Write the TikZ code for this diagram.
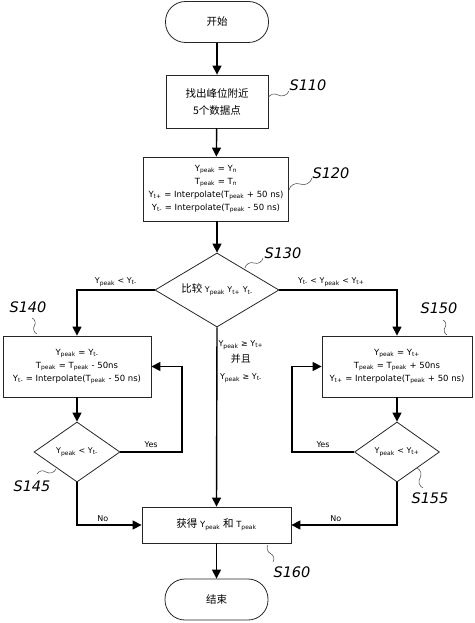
\documentclass[tikz,border=0pt]{standalone}
\usepackage{fontspec}
\setmainfont{DejaVu Sans}
\newfontfamily\cjk{Noto Sans CJK SC}
\usetikzlibrary{shapes.geometric,arrows.meta,calc}
\newcommand\sbs[1]{\textsubscript{#1}}
\tikzset{
  box/.style={draw=black!85, line width=0.8pt, align=center, inner sep=0pt,
    font=\fontsize{8.5}{13}\selectfont},
  term/.style={draw=black!85, line width=0.8pt, rounded corners=20pt, inner sep=0pt,
    minimum width=103pt, minimum height=41pt, font=\cjk\fontsize{10.5}{12}\selectfont},
  dec/.style={diamond, draw=black!85, line width=0.8pt, inner sep=0pt, align=center,
    font=\fontsize{8}{9}\selectfont},
  flow/.style={line width=1.4pt, -{Triangle[length=9pt,width=9pt]}},
  lbl/.style={font=\fontsize{14.5}{14}\selectfont\itshape},
  cond/.style={font=\fontsize{8}{9}\selectfont, inner sep=1pt},
  sq/.style={line width=0.5pt, black!75}
}
\begin{document}
\begin{tikzpicture}[x=1pt,y=-1pt]
\useasboundingbox (0,0) rectangle (474,623);
% nodes
\node[term] (start) at (217,22) {开始};
\node[box, minimum width=102pt, minimum height=53pt, font=\cjk\fontsize{10.5}{17}\selectfont] (s110) at (217,101.5) {找出峰位附近\\5个数据点};
\node[box, minimum width=145pt, minimum height=64pt] (s120) at (216,189) {Y\sbs{peak} = Y\sbs{n}\\T\sbs{peak} = T\sbs{n}\\Y\sbs{t+} = Interpolate(T\sbs{peak} + 50 ns)\\Y\sbs{t-} = Interpolate(T\sbs{peak} - 50 ns)};
\node[dec, minimum width=124pt, minimum height=74pt, shape aspect=1.68] (d130) at (217,290) {{\cjk\fontsize{10.5}{10}\selectfont 比较} Y\sbs{peak} Y\sbs{t+} Y\sbs{t-}};
\node[box, minimum width=148pt, minimum height=61pt] (s140) at (77,366.5) {Y\sbs{peak} = Y\sbs{t-}\\T\sbs{peak} = T\sbs{peak} - 50ns\\Y\sbs{t-} = Interpolate(T\sbs{peak} - 50 ns)};
\node[box, minimum width=150pt, minimum height=61pt] (s150) at (397,366.5) {Y\sbs{peak} = Y\sbs{t+}\\T\sbs{peak} = T\sbs{peak} + 50ns\\Y\sbs{t+} = Interpolate(T\sbs{peak} + 50 ns)};
\node[dec, minimum width=86pt, minimum height=60pt, shape aspect=1.43] (d145) at (77,452) {Y\sbs{peak} < Y\sbs{t-}};
\node[dec, minimum width=85pt, minimum height=60pt, shape aspect=1.42] (d155) at (397,452) {Y\sbs{peak} < Y\sbs{t+}};
\node[box, minimum width=149pt, minimum height=36pt] (s160) at (216.5,525) {{\cjk\fontsize{10.5}{10}\selectfont 获得} Y\sbs{peak} {\cjk\fontsize{10.5}{10}\selectfont 和} T\sbs{peak}};
\node[term] (end) at (216.5,599.5) {结束};
\coordinate (y145) at (182,452);
\coordinate (y155) at (292,452);
% connectors
\draw[flow] (start) -- (s110);
\draw[flow] (s110) -- (s120);
\draw[flow] (s120.south -| d130.north) -- (d130.north);
\draw[flow] (d130.west) -| node[cond, pos=0.25, above=2pt] {Y\sbs{peak} < Y\sbs{t-}} (s140.north);
\draw[flow] (d130.east) -| node[cond, pos=0.22, above=2pt] {Y\sbs{t-} < Y\sbs{peak} < Y\sbs{t+}} (s150.north);
\draw[flow] (d130.south) -- node[cond, pos=0.19, anchor=west, align=center, font=\fontsize{8}{16.5}\selectfont] {Y\sbs{peak} ≥ Y\sbs{t+}\\{\cjk\fontsize{10}{10}\selectfont 并且}\\Y\sbs{peak} ≥ Y\sbs{t-}} (s160.north);
\draw[flow] (s140) -- (d145);
\draw[flow] (s150) -- (d155);
\draw[flow] (d145.east) -- node[cond, pos=0.5, above=3pt] {Yes} (y145) |- (s140.east);
\draw[flow] (d155.west) -- node[cond, pos=0.5, above=3pt] {Yes} (y155) |- (s150.east -| s150.west);
\draw[flow] (d145.south) |- node[cond, pos=0.7, above=2pt] {No} (s160.west);
\draw[flow] (d155.south) |- node[cond, pos=0.79, above=2pt] {No} (s160.east);
\draw[flow] (s160) -- (end);
% step labels
\node[lbl] (l110) at (308,85) {S110};
\node[lbl] (l120) at (331,173) {S120};
\node[lbl] (l130) at (283,253) {S130};
\node[lbl] (l140) at (28,307) {S140};
\node[lbl] (l150) at (439,308) {S150};
\node[lbl] (l145) at (32,486) {S145};
\node[lbl] (l155) at (430,498) {S155};
\node[lbl] (l160) at (292,572) {S160};
% squiggles
\draw[sq] (268,98) to[bend left=50] (278,95) to[bend right=50] (289,91);
\draw[sq] (289,190) to[bend left=50] (300,184) to[bend right=50] (312,178);
\draw[sq] (245,268) to[bend left=50] (254,263) to[bend right=50] (263,258);
\draw[sq] (32,318) to[bend left=50] (34.5,325.5) to[bend right=50] (37,334);
\draw[sq] (443,320) to[bend left=50] (445,327.5) to[bend right=50] (447,335);
\draw[sq] (37,474) to[bend left=50] (46,472) to[bend right=50] (56,469);
\draw[sq] (417,468) to[bend left=50] (420,478) to[bend right=50] (423,488);
\draw[sq] (268,545) to[bend right=50] (270.5,553.5) to[bend left=50] (273,562);
\end{tikzpicture}
\end{document}
